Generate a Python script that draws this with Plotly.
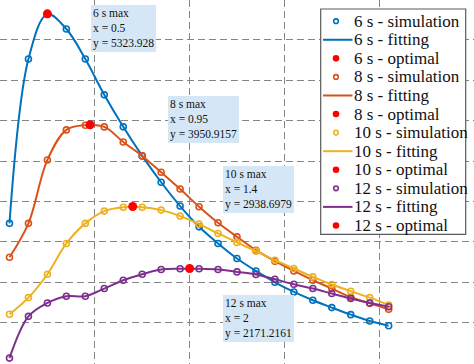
import plotly.graph_objects as go

# ---------------- data ----------------
x_vals = [0.1, 0.3, 0.5, 0.7, 0.9, 1.1, 1.3, 1.5, 1.7, 1.9, 2.1,
          2.3, 2.5, 2.7, 2.9, 3.1, 3.3, 3.5, 3.7, 3.9, 4.1]

y_6s = [2730, 4764, 5320, 5136, 4764, 4321, 3925, 3565, 3239, 2944, 2687,
        2481, 2295, 2141, 2001, 1881, 1778, 1687, 1600, 1521, 1463]
y_8s = [2310, 2730, 3515, 3887, 3945, 3924, 3738, 3565, 3362, 3155, 2936,
        2737, 2563, 2398, 2262, 2141, 2026, 1923, 1815, 1740, 1666]
y_10s = [1604, 1811, 2100, 2481, 2730, 2882, 2930, 2930, 2894, 2820, 2721,
         2605, 2494, 2386, 2274, 2171, 2067, 1973, 1890, 1811, 1719]
y_12s = [1062, 1579, 1745, 1828, 1828, 1923, 2026, 2100, 2159, 2168, 2168,
         2159, 2129, 2097, 2038, 1976, 1923, 1861, 1799, 1744, 1698]

series_names = ["6 s", "8 s", "10 s", "12 s"]
series_colors = ["#0072BD", "#D95319", "#EDB120", "#7E2F8E"]
series_y = [y_6s, y_8s, y_10s, y_12s]

opt_x = [0.5, 0.95, 1.4, 2]
opt_y = [5323.928, 3950.9157, 2938.6979, 2171.2161]
opt_label_x = ["0.5", "0.95", "1.4", "2"]
opt_label_y = ["5323.928", "3950.9157", "2938.6979", "2171.2161"]

x_grid = [1, 2, 3, 4]
y_grid = [1500, 2000, 2500, 3000, 3500, 4000, 4500, 5000]

W, H = 474, 364
FONT = "Liberation Serif, Times New Roman, Times, serif"

fig = go.Figure()

for name, col, ys, ox, oy in zip(series_names, series_colors, series_y, opt_x, opt_y):
    fig.add_trace(go.Scatter(x=x_vals, y=ys, mode="lines",
                             line=dict(color=col, width=2, shape="spline", smoothing=1.0),
                             name=name + " - fitting", showlegend=False, hoverinfo="skip"))
    fig.add_trace(go.Scatter(x=x_vals, y=ys, mode="markers",
                             marker=dict(symbol="circle-open", size=6, color=col,
                                         line=dict(color=col, width=1.6)),
                             name=name + " - simulation", showlegend=False))
    fig.add_trace(go.Scatter(x=[ox], y=[oy], mode="markers",
                             marker=dict(symbol="circle", size=9, color="#FF0000"),
                             name=name + " - optimal", showlegend=False))


def px(xp):
    return xp / W


def py(yp):
    return 1 - yp / H


shapes = []
annotations = []

# ---- datatip boxes ----
tip_pos = [(90.7, 5.0), (168.0, 96.5), (222.7, 166.5), (223.3, 295.0)]
for name, lx, ly, (bx, by) in zip(series_names, opt_label_x, opt_label_y, tip_pos):
    annotations.append(dict(
        xref="paper", yref="paper", x=px(bx), y=py(by),
        xanchor="left", yanchor="top", align="left", showarrow=False,
        text=f"{name} max<br>x = {lx}<br>y = {ly}",
        font=dict(family=FONT, size=11.5, color="#111111"),
        bgcolor="#D5E7F6", borderpad=2, borderwidth=0))

# ---- manual legend ----
lg_x0, lg_x1, lg_y0, lg_y1 = 320.7, 465.7, 9.0, 234.3
shapes.append(dict(type="rect", xref="paper", yref="paper", layer="above",
                   x0=px(lg_x0), x1=px(lg_x1), y0=py(lg_y1), y1=py(lg_y0),
                   fillcolor="white", line=dict(color="#5a5a5a", width=1.2)))
first_y, step = 21.2, 18.57
i = 0
for name, col in zip(series_names, series_colors):
    for kind in ["simulation", "fitting", "optimal"]:
        cy = first_y + i * step
        if kind == "simulation":
            shapes.append(dict(type="circle", xref="paper", yref="paper", layer="above",
                               xsizemode="pixel", ysizemode="pixel",
                               xanchor=px(336), yanchor=py(cy),
                               x0=-2.3, x1=2.3, y0=-2.3, y1=2.3,
                               line=dict(color=col, width=1.6), fillcolor="rgba(0,0,0,0)"))
        elif kind == "fitting":
            shapes.append(dict(type="line", xref="paper", yref="paper", layer="above",
                               x0=px(323), x1=px(352.5), y0=py(cy), y1=py(cy),
                               line=dict(color=col, width=2)))
        else:
            shapes.append(dict(type="circle", xref="paper", yref="paper", layer="above",
                               xsizemode="pixel", ysizemode="pixel",
                               xanchor=px(336), yanchor=py(cy),
                               x0=-3.3, x1=3.3, y0=-3.3, y1=3.3,
                               line=dict(color="#FF0000", width=0), fillcolor="#FF0000"))
        annotations.append(dict(
            xref="paper", yref="paper", x=px(353.0), y=py(cy),
            xanchor="left", yanchor="middle", showarrow=False,
            text=f"{name} - {kind}", borderpad=0,
            font=dict(family=FONT, size=17, color="#111111")))
        i += 1

fig.update_layout(
    width=W, height=H,
    margin=dict(l=0, r=0, t=0, b=0, pad=0),
    paper_bgcolor="white", plot_bgcolor="white",
    showlegend=False,
    font=dict(family=FONT),
    shapes=shapes, annotations=annotations,
    xaxis=dict(range=[0, 5.0], tickvals=x_grid, showticklabels=False, ticks="",
               showgrid=True, gridcolor="#858585", gridwidth=1.4, griddash="7px,4px",
               zeroline=False, showline=False),
    yaxis=dict(range=[989, 5495], tickvals=y_grid, showticklabels=False, ticks="",
               showgrid=True, gridcolor="#858585", gridwidth=1.4, griddash="7px,4px",
               zeroline=False, showline=True, linecolor="#c8c8c8", linewidth=2),
)

fig.write_html("out.html", config={"displayModeBar": False},
               post_script="document.body.style.margin='0';document.body.style.overflow='hidden';")
